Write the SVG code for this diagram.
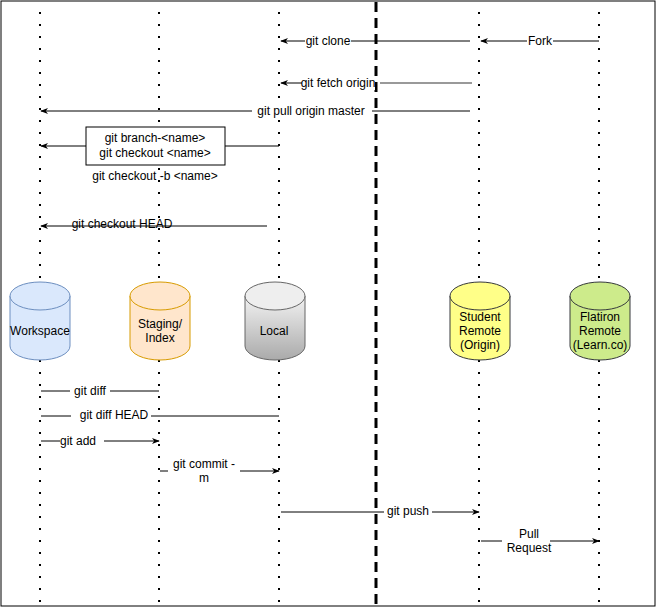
<svg xmlns="http://www.w3.org/2000/svg" width="656" height="608" viewBox="0 0 656 608">
<style>
text{font-family:"Liberation Sans",Arial,sans-serif;font-size:12px;fill:#000;text-anchor:middle}
.life{stroke:#000;stroke-width:2;stroke-dasharray:2 10}
.ln{stroke:#000;stroke-width:1;fill:none}
.lb{fill:#fff}
</style>
<defs>
<marker id="a" viewBox="0 0 10 10" refX="9" refY="5" markerWidth="8" markerHeight="8" orient="auto"><path d="M0,1 L10,5 L0,9 L3,5 z" fill="#000"/></marker>
<linearGradient id="g" x1="0" y1="0" x2="0" y2="1"><stop offset="0" stop-color="#f2f2f2"/><stop offset="1" stop-color="#aaa"/></linearGradient>
</defs>
<rect x="1" y="1" width="654" height="605" fill="#fff" stroke="#000"/>
<g id="lifelines">
<line class="life" x1="40" y1="12" x2="40" y2="605"/>
<line class="life" x1="159" y1="12" x2="159" y2="605"/>
<line class="life" x1="279" y1="12" x2="279" y2="605"/>
<line class="life" x1="479" y1="12" x2="479" y2="605"/>
<line class="life" x1="599" y1="12" x2="599" y2="605"/>
<line x1="376" y1="2" x2="376" y2="605" stroke="#000" stroke-width="3" stroke-dasharray="10 6"/>
</g>
<g id="workspace"><path d="M10,296 v50 a30,14 0 0 0 60,0 v-50" fill="#dae8fc" stroke="#6c8ebf"/><ellipse cx="40" cy="296" rx="30" ry="14" fill="#dae8fc" stroke="#6c8ebf"/><text x="40" y="335">Workspace</text></g>
<g id="staging"><path d="M130,296 v50 a30,14 0 0 0 60,0 v-50" fill="#ffe6cc" stroke="#d79b00"/><ellipse cx="160" cy="296" rx="30" ry="14" fill="#ffe6cc" stroke="#d79b00"/><text x="160" y="328">Staging/</text><text x="160" y="342">Index</text></g>
<g id="local"><path d="M245,296 v50 a30,14 0 0 0 60,0 v-50" fill="url(#g)" stroke="#666"/><ellipse cx="275" cy="296" rx="30" ry="14" fill="#eee" stroke="#666"/><text x="274" y="335">Local</text></g>
<g id="student"><path d="M450,296 v50 a30,14 0 0 0 60,0 v-50" fill="#ffff88" stroke="#36393d"/><ellipse cx="480" cy="296" rx="30" ry="14" fill="#ffff88" stroke="#36393d"/><text x="480" y="321">Student</text><text x="480" y="335">Remote</text><text x="480" y="349">(Origin)</text></g>
<g id="flatiron"><path d="M570,296 v50 a30,14 0 0 0 60,0 v-50" fill="#cdeb8b" stroke="#36393d"/><ellipse cx="600" cy="296" rx="30" ry="14" fill="#cdeb8b" stroke="#36393d"/><text x="600" y="321">Flatiron</text><text x="600" y="335">Remote</text><text x="600" y="349">(Learn.co)</text></g>
<g id="connectors">
<line class="ln" x1="470" y1="41" x2="281" y2="41" marker-end="url(#a)"/>
<rect class="lb" x="305" y="34" width="46" height="14"/><text x="328" y="45">git clone</text>
<line class="ln" x1="599" y1="41" x2="481" y2="41" marker-end="url(#a)"/>
<rect class="lb" x="527" y="34" width="26" height="14"/><text x="540" y="45">Fork</text>
<line class="ln" x1="376" y1="83" x2="281" y2="83" marker-end="url(#a)"/>
<line x1="380" y1="83" x2="472" y2="83" stroke="#777" stroke-width="1.5"/>
<rect class="lb" x="302" y="76" width="73" height="14"/><text x="338" y="87">git fetch origin</text>
<line class="ln" x1="470" y1="111" x2="41" y2="111" marker-end="url(#a)"/>
<rect class="lb" x="252" y="104" width="120" height="14"/><text x="311" y="115">git pull origin master</text>
<line class="ln" x1="279" y1="146" x2="41" y2="146" marker-end="url(#a)"/>
<rect x="86" y="127" width="139" height="38" fill="#fff" stroke="#000"/>
<text x="155" y="142">git branch-&lt;name&gt;</text><text x="155" y="157">git checkout &lt;name&gt;</text>
<text x="155" y="180">git checkout -b &lt;name&gt;</text>
<line class="ln" x1="267" y1="226" x2="41" y2="226" marker-end="url(#a)"/>
<text x="122" y="228">git checkout HEAD</text>
<line class="ln" x1="41" y1="391" x2="159" y2="391"/>
<rect class="lb" x="70" y="384" width="40" height="14"/><text x="90" y="395">git diff</text>
<line class="ln" x1="41" y1="416" x2="279" y2="416"/>
<rect class="lb" x="71" y="409" width="80" height="14"/><text x="114" y="419">git diff HEAD</text>
<line class="ln" x1="41" y1="441" x2="159" y2="441" marker-end="url(#a)"/>
<rect class="lb" x="60" y="434" width="44" height="14"/><text x="78" y="445">git add</text>
<line class="ln" x1="160" y1="471" x2="279" y2="471" marker-end="url(#a)"/>
<rect class="lb" x="168" y="456" width="72" height="30"/><text x="204" y="468">git commit -</text><text x="204" y="482">m</text>
<line class="ln" x1="281" y1="512" x2="479" y2="512" marker-end="url(#a)"/>
<rect class="lb" x="384" y="505" width="48" height="14"/><text x="408" y="515">git push</text>
<line class="ln" x1="481" y1="541" x2="599" y2="541" marker-end="url(#a)"/>
<rect class="lb" x="502" y="526" width="48" height="30"/><text x="529" y="538">Pull</text><text x="529" y="552">Request</text>
</g>
</svg>
